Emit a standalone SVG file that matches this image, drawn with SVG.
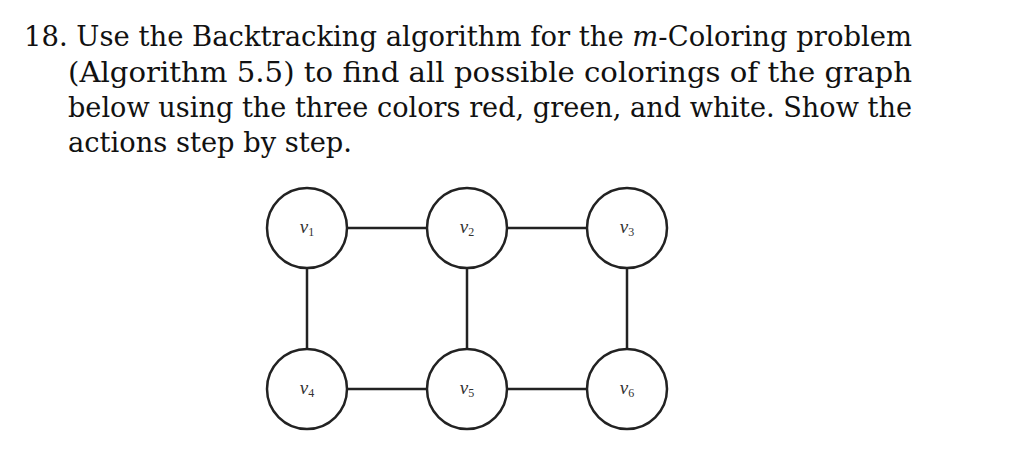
<svg xmlns="http://www.w3.org/2000/svg" width="1024" height="474" viewBox="0 0 1024 474">
<style>
.t{font-family:"DejaVu Serif",serif;font-size:27px;fill:#111}
.n circle{fill:#fff;stroke:#222;stroke-width:2.5}
.n text{font-family:"Liberation Serif",serif;font-style:italic;font-size:19px;fill:#333;text-anchor:middle}
.n tspan{font-style:normal;font-size:12px}
#edges line{stroke:#222;stroke-width:2.5}
</style>
<rect width="1024" height="474" fill="#fff"/>
<text class="t" x="24" y="46" textLength="888" lengthAdjust="spacingAndGlyphs">18. Use the Backtracking algorithm for the <tspan font-style="italic">m</tspan>-Coloring problem</text>
<text class="t" x="68" y="82" textLength="844" lengthAdjust="spacingAndGlyphs">(Algorithm 5.5) to find all possible colorings of the graph</text>
<text class="t" x="68" y="117" textLength="844" lengthAdjust="spacingAndGlyphs">below using the three colors red, green, and white. Show the</text>
<text class="t" x="68" y="152" textLength="284" lengthAdjust="spacingAndGlyphs">actions step by step.</text>
<g id="edges">
<line x1="307" y1="228" x2="467" y2="228"/>
<line x1="467" y1="228" x2="627" y2="228"/>
<line x1="307" y1="389" x2="467" y2="389"/>
<line x1="467" y1="389" x2="627" y2="389"/>
<line x1="307" y1="228" x2="307" y2="389"/>
<line x1="467" y1="228" x2="467" y2="389"/>
<line x1="627" y1="228" x2="627" y2="389"/>
</g>
<g id="v1" class="n"><circle cx="307" cy="228" r="40"/><text x="307" y="233">v<tspan dy="3">1</tspan></text></g>
<g id="v2" class="n"><circle cx="467" cy="228" r="40"/><text x="467" y="233">v<tspan dy="3">2</tspan></text></g>
<g id="v3" class="n"><circle cx="627" cy="228" r="40"/><text x="627" y="233">v<tspan dy="3">3</tspan></text></g>
<g id="v4" class="n"><circle cx="307" cy="389" r="40"/><text x="307" y="394">v<tspan dy="3">4</tspan></text></g>
<g id="v5" class="n"><circle cx="467" cy="389" r="40"/><text x="467" y="394">v<tspan dy="3">5</tspan></text></g>
<g id="v6" class="n"><circle cx="627" cy="389" r="40"/><text x="627" y="394">v<tspan dy="3">6</tspan></text></g>
</svg>
